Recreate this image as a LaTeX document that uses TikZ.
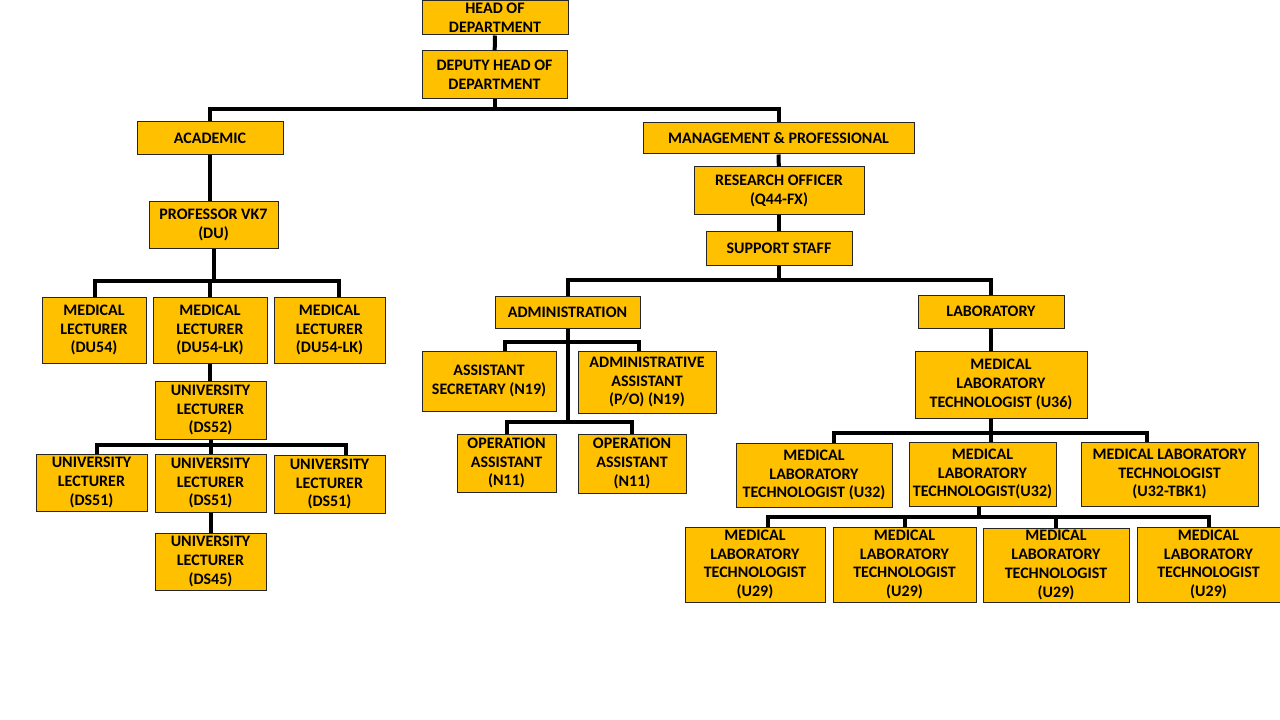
\documentclass[tikz,border=0pt]{standalone}
\usepackage{fontspec}
\setmainfont{Carlito}
\usepackage{tikz}
\usetikzlibrary{positioning, calc}
\definecolor{postgold}{HTML}{FFC000}
\tikzset{
  % Chart styles
  post/.style 2 args={rectangle, draw=black!85, line width=0.75pt, fill=postgold, inner sep=0pt,
    minimum width=#1*0.75pt, minimum height=#2*0.75pt, align=center,
    font=\fontsize{12}{14.1}\selectfont\bfseries},
  link/.style={line width=3pt, line join=miter, draw=black},
}

\begin{document}
\begin{tikzpicture}[x=0.75pt, y=-0.75pt]
    \useasboundingbox[fill=white] (0,0) rectangle (1280,720);
    % Bar levels (y in px, top down)
    \coordinate (topbar) at (0,109);
    \coordinate (profbar) at (0,281);
    \coordinate (ulbar) at (0,445);
    \coordinate (supbar) at (0,280);
    \coordinate (admbarA) at (0,342);
    \coordinate (admbarB) at (0,422);
    \coordinate (labbar) at (0,433);
    \coordinate (techbar) at (0,517);
    % Top
    \node[post={146}{34}] (head) at (495,18) {HEAD OF\\DEPARTMENT};
    \node[post={145}{48}] (deputy) at (494.5,75) {DEPUTY HEAD OF\\DEPARTMENT};
    \node[post={146}{33}] (academic) at (210,138.5) {ACADEMIC};
    \node[post={271}{31}] (mgmt) at (778.5,138.5) {MANAGEMENT \& PROFESSIONAL};
    % Academic branch
    \node[post={129}{46}] (prof) at (213.5,225) {PROFESSOR VK7\\(DU)};
    \node[post={104}{66}] (medA) at (94,330) {MEDICAL\\LECTURER\\(DU54)};
    \node[post={114}{66}] (medB) at (210,330) {MEDICAL\\LECTURER\\(DU54-LK)};
    \node[post={111}{66}] (medC) at (329.5,330) {MEDICAL\\LECTURER\\(DU54-LK)};
    \node[post={111}{58}] (uniTop) at (210.5,410) {UNIVERSITY\\LECTURER\\(DS52)};
    \node[post={111}{57}] (uniA) at (91.5,482.5) {UNIVERSITY\\LECTURER\\(DS51)};
    \node[post={111}{58}] (uniB) at (210.5,483) {UNIVERSITY\\LECTURER\\(DS51)};
    \node[post={111}{58}] (uniC) at (329.5,484) {UNIVERSITY\\LECTURER\\(DS51)};
    \node[post={111}{57}] (uniLow) at (210.5,561.5) {UNIVERSITY\\LECTURER\\(DS45)};
    % Management branch
    \node[post={170}{48}] (research) at (779,191) {RESEARCH OFFICER\\(Q44-FX)};
    \node[post={146}{33}] (support) at (779,248.5) {SUPPORT STAFF};
    \node[post={145}{32}] (admin) at (567.5,312) {ADMINISTRATION};
    \node[post={146}{33}] (lab) at (991,311.5) {LABORATORY};
    \node[post={134}{60}] (secr) at (489,381) {ASSISTANT\\SECRETARY (N19)};
    \node[post={138}{62}] (adminAsst) at (647,382) {ADMINISTRATIVE\\ASSISTANT\\(P/O) (N19)};
    \node[post={99}{58}] (opA) at (506.5,463) {OPERATION\\ASSISTANT\\(N11)};
    \node[post={108}{59}] (opB) at (632,463.5) {OPERATION\\ASSISTANT\\(N11)};
    % Laboratory
    \node[post={172}{67}] (techTop) at (1001,384.5) {MEDICAL\\LABORATORY\\TECHNOLOGIST (U36)};
    \node[post={156}{64}] (techA) at (814,475) {MEDICAL\\LABORATORY\\TECHNOLOGIST (U32)};
    \node[post={147}{64}] (techB) at (982.5,474) {MEDICAL\\LABORATORY\\TECHNOLOGIST(U32)};
    \node[post={177}{64}] (techC) at (1169.5,474) {MEDICAL LABORATORY\\TECHNOLOGIST\\(U32-TBK1)};
    \node[post={140}{75}] (juniorA) at (755,564.5) {MEDICAL\\LABORATORY\\TECHNOLOGIST\\(U29)};
    \node[post={143}{75}] (juniorB) at (904.5,564.5) {MEDICAL\\LABORATORY\\TECHNOLOGIST\\(U29)};
    \node[post={146}{74}] (juniorC) at (1056,565) {MEDICAL\\LABORATORY\\TECHNOLOGIST\\(U29)};
    \node[post={143}{75}] (juniorD) at (1208.5,564.5) {MEDICAL\\LABORATORY\\TECHNOLOGIST\\(U29)};
    % Connectors: top
    \draw[link] (head) -- (deputy);
    \draw[link] (deputy) -- (deputy |- topbar);
    \draw[link] (academic) |- (deputy |- topbar) -| (mgmt);
    % Connectors: academic
    \draw[link] (academic) -- (academic |- prof.north);
    \draw[link] (prof) -- (prof |- profbar);
    \draw[link] ([xshift=0.5pt]medA.north) |- (prof |- profbar) -| ([xshift=7pt]medC.north);
    \draw[link] (medB |- profbar) -- (medB);
    \draw[link] (medB) -- (medB |- uniTop.north);
    \draw[link] (uniTop) -- (uniTop |- ulbar);
    \draw[link] ([xshift=4pt]uniA.north) |- (uniTop |- ulbar) -| ([xshift=12pt]uniC.north);
    \draw[link] (uniTop |- ulbar) -- (uniB);
    \draw[link] (uniB) -- (uniLow);
    % Connectors: management
    \draw[link] (mgmt) -- (research);
    \draw[link] (research) -- (support);
    \draw[link] (support) -- (support |- supbar);
    \draw[link] (admin) |- (support |- supbar) -| (lab);
    % Connectors: administration
    \draw[link] (admin) -- (admin |- admbarB);
    \draw[link] ([xshift=12pt]secr.north) |- (admin |- admbarA) -| ([xshift=-6pt]adminAsst.north);
    \draw[link] (opA) |- (admin |- admbarB) -| (opB);
    % Connectors: laboratory
    \draw[link] (lab) -- (lab |- techTop.north);
    \draw[link] (lab |- techTop.south) -- (lab |- labbar);
    \draw[link] ([xshift=15pt]techA.north) |- (lab |- labbar) -| ([xshift=-17pt]techC.north);
    \draw[link] (lab |- labbar) -- (lab |- techB.north);
    \draw[link] ([xshift=-2.5pt]techB.south) -- ([xshift=-2.5pt]techB.south |- techbar);
    \draw[link] ([xshift=10pt]juniorA.north) |- ([xshift=-2.5pt]techB.south |- techbar) -| (juniorD);
    \draw[link] (juniorB) -- (juniorB |- techbar);
    \draw[link] (juniorC) -- (juniorC |- techbar);
\end{tikzpicture}
\end{document}
